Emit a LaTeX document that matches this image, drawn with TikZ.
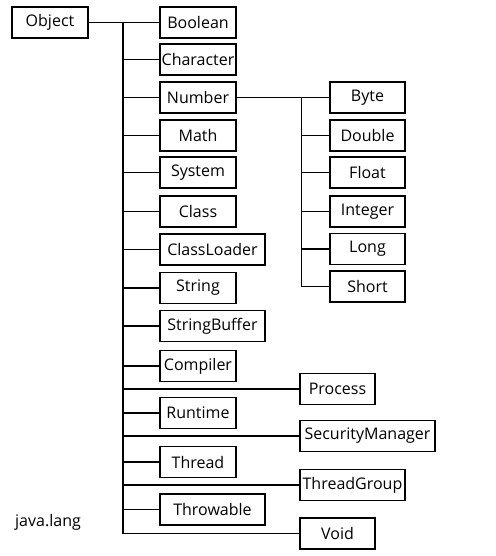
\documentclass[tikz,border=0pt]{standalone}
\usepackage{fontspec}
\setmainfont{Open Sans}
\begin{document}
\begin{tikzpicture}[x=1pt,y=-1pt,
  box/.style={draw,line width=1.1pt,minimum height=31pt,inner sep=0pt,font=\fontsize{16}{18}\selectfont},
  w76/.style={box,minimum width=76pt},
  w105/.style={box,minimum width=105pt},
  w135/.style={box,minimum width=135pt},
  link/.style={line width=1.1pt}]
\useasboundingbox (0,0) rectangle (495,556);
\node[w76] (Object) at (50,22.5) {Object};
\node[w76] (Boolean) at (198,22.5) {Boolean};
\node[w76] (Character) at (198,59.5) {Character};
\node[w76] (Number) at (198,97.5) {Number};
\node[w76] (Math) at (198,135.5) {Math};
\node[w76] (System) at (198,172.5) {System};
\node[w76] (Class) at (198,211.5) {Class};
\node[w105] (ClassLoader) at (212.5,249.5) {ClassLoader};
\node[w76] (String) at (198,288) {String};
\node[w105] (StringBuffer) at (212.5,326) {StringBuffer};
\node[w76] (Compiler) at (198,366) {Compiler};
\node[box,minimum width=75pt] (Process) at (337.5,389) {Process};
\node[w76] (Runtime) at (198,413) {Runtime};
\node[w135] (SecurityManager) at (367.5,436) {SecurityManager};
\node[w76] (Thread) at (198,462) {Thread};
\node[w105] (ThreadGroup) at (352.5,485) {ThreadGroup};
\node[w105] (Throwable) at (212.5,509.5) {Throwable};
\node[box,minimum width=75pt] (Void) at (337.5,533.5) {Void};
\node[box,minimum width=75pt] (Byte) at (367.5,97.5) {Byte};
\node[box,minimum width=75pt] (Double) at (367.5,135.5) {Double};
\node[box,minimum width=75pt] (Float) at (367.5,172.5) {Float};
\node[box,minimum width=75pt] (Integer) at (367.5,211.5) {Integer};
\node[box,minimum width=75pt] (Long) at (367.5,249) {Long};
\node[box,minimum width=75pt] (Short) at (367.5,286.5) {Short};
\node[anchor=west,inner sep=0pt,font=\fontsize{16}{18}\selectfont] (pkg) at (15,522) {java.lang};
\coordinate (tr) at (123,0);
\coordinate (sub) at (301.5,0);
\draw[link] (Object.east) -- (Boolean.west);
\draw[link] (Boolean.west -| tr) -- (Void.west -| tr) -- (Void.west);
\foreach \n in {Character,Number,Math,System,Class,ClassLoader,String,StringBuffer,Compiler,Process,Runtime,SecurityManager,Thread,ThreadGroup,Throwable}
  \draw[link] (\n.west -| tr) -- (\n.west);
\draw[link] (Number.east) -- (Byte.west);
\draw[link] (Byte.west -| sub) -- (Short.west -| sub) -- (Short.west);
\foreach \n in {Double,Float,Integer,Long}
  \draw[link] (\n.west -| sub) -- (\n.west);
\end{tikzpicture}
\end{document}
